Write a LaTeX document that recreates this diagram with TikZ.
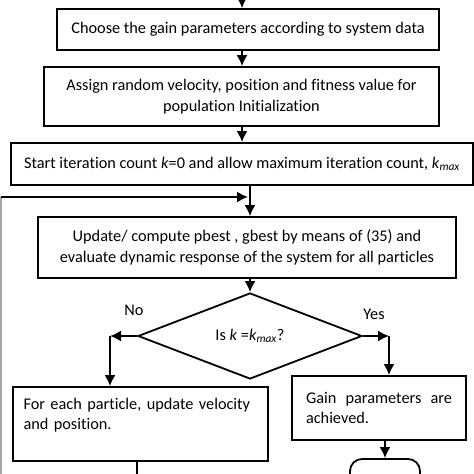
\documentclass[tikz,border=0pt]{standalone}
\usepackage{fontspec}
\setmainfont{Carlito}[Ligatures=NoCommon]
\usepackage{tikz}
\usetikzlibrary{shapes.geometric, arrows.meta, positioning}
\tikzstyle{process} = [rectangle, draw=black, line width=1.8pt, inner sep=0pt, align=center]
\tikzstyle{decision} = [diamond, draw=black, line width=1.8pt, inner sep=0pt, minimum width=224pt, minimum height=86pt]
\tikzstyle{startstop} = [rectangle, rounded corners=12pt, draw=black, line width=1.8pt, minimum width=70pt, minimum height=40pt]
\tikzstyle{arrow} = [line width=1.8pt,->,>={Latex[length=11pt,width=11pt]}]

\begin{document}
\begin{tikzpicture}[x=1pt, y=-1pt, every node/.style={font=\fontsize{16.3}{20.5}\selectfont}]
    \useasboundingbox (0,0) rectangle (474,474);
    \clip (0,0) rectangle (474,474);

    \node (choose) [process, minimum width=382pt, minimum height=41pt] at (248,29.5) {Choose the gain parameters according to system data};
    \node (assign) [process, minimum width=395pt, minimum height=59pt] at (241.5,96.5) {Assign random velocity, position and fitness value for\\population Initialization};
    \node (start) [process, minimum width=462pt, minimum height=42pt] at (242,164) {Start iteration count \textit{k}=0 and allow maximum iteration count, \textit{k}\textsubscript{\textit{max}}};
    \node (update) [process, minimum width=418pt, minimum height=61pt] at (247,247.5) {Update/ compute pbest , gbest by means of (35) and\\evaluate dynamic response of the system for all particles};
    \node (check) [decision] at (250,336) {Is \textit{k} =\textit{k}\textsubscript{\textit{max}}?};
    \node (move) [process, align=left, text width=234pt, minimum width=255pt, minimum height=74pt] at (140.5,424) {For each particle, update velocity\\and position.\\\mbox{}};
    \node (done) [process, align=justify, text width=146pt, minimum width=174pt, minimum height=64pt] at (379,408) {Gain parameters are achieved.};
    \node (stop) [startstop] at (385,479) {};

    \node (no) at (134,310) {No};
    \node (yes) at (374,314) {Yes};

    \coordinate (entry) at (242,-10);
    \coordinate (nojoin) at (110,336);
    \coordinate (yesjoin) at (389,336);
    \coordinate (loopin) at (1,197);
    \coordinate (loopbot) at (1,480);
    \coordinate (out) at (137,486);

    \draw [arrow] (entry) -- (entry |- choose.north);
    \draw [arrow] (entry |- choose.south) -- (entry |- assign.north);
    \draw [arrow] (entry |- assign.south) -- (entry |- start.north);
    \draw [arrow] (check.north |- start.south) -- (check.north |- update.north);

    \draw [line width=1.8pt, gray!70] (loopbot) -- (loopin);
    \draw [arrow, shorten >=2pt] (loopin) -- (check.north |- loopin);

    \draw [arrow] (update.south -| check.north) -- (check.north);
    \draw [arrow] (check.west) -- (nojoin);
    \draw [arrow] (nojoin) -- (nojoin |- move.north);
    \draw [arrow] (check.east) -- (yesjoin);
    \draw [arrow] (yesjoin) -- (yesjoin |- done.north);
    \draw [arrow] (stop.north |- done.south) -- (stop.north);
    \draw [arrow] (out |- move.south) -- (out);
\end{tikzpicture}
\end{document}
